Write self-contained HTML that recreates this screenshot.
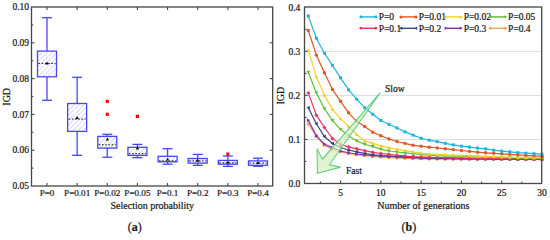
<!DOCTYPE html>
<html><head><meta charset="utf-8"><style>
html,body{margin:0;padding:0;background:#fff;width:550px;height:236px;overflow:hidden}
svg{display:block}
text{font-family:"Liberation Serif", serif;fill:#1a1a1a;stroke:#1a1a1a;stroke-width:0.22px}
</style></head><body>
<svg width="550" height="236" viewBox="0 0 550 236">
<defs><pattern id="h" patternUnits="userSpaceOnUse" width="3.5" height="3.5" patternTransform="rotate(45)"><line x1="0" y1="0" x2="0" y2="3.5" stroke="#a4a4ff" stroke-width="0.9"/></pattern></defs>
<line x1="47.00" y1="17.7" x2="47.00" y2="51.1" stroke="#4646ff" stroke-width="1.3"/>
<line x1="47.00" y1="76.8" x2="47.00" y2="100.3" stroke="#4646ff" stroke-width="1.3"/>
<line x1="42.00" y1="17.7" x2="52.00" y2="17.7" stroke="#4646ff" stroke-width="1.3"/>
<line x1="42.00" y1="100.3" x2="52.00" y2="100.3" stroke="#4646ff" stroke-width="1.3"/>
<rect x="37.50" y="51.1" width="19.0" height="25.70" fill="url(#h)" stroke="#4646ff" stroke-width="1.3"/>
<line x1="38.50" y1="63.4" x2="55.50" y2="63.4" stroke="#111" stroke-width="1" stroke-dasharray="1.6 1.6"/>
<path d="M47.00 61.50L48.60 64.60L45.40 64.60Z" fill="#000"/>
<line x1="77.14" y1="77.3" x2="77.14" y2="103.5" stroke="#4646ff" stroke-width="1.3"/>
<line x1="77.14" y1="131.4" x2="77.14" y2="155.3" stroke="#4646ff" stroke-width="1.3"/>
<line x1="72.14" y1="77.3" x2="82.14" y2="77.3" stroke="#4646ff" stroke-width="1.3"/>
<line x1="72.14" y1="155.3" x2="82.14" y2="155.3" stroke="#4646ff" stroke-width="1.3"/>
<rect x="67.64" y="103.5" width="19.0" height="27.90" fill="url(#h)" stroke="#4646ff" stroke-width="1.3"/>
<line x1="68.64" y1="119.1" x2="85.64" y2="119.1" stroke="#111" stroke-width="1" stroke-dasharray="1.6 1.6"/>
<path d="M77.14 116.00L78.74 119.10L75.54 119.10Z" fill="#000"/>
<line x1="107.28" y1="134.3" x2="107.28" y2="136.4" stroke="#4646ff" stroke-width="1.3"/>
<line x1="107.28" y1="148.1" x2="107.28" y2="157.2" stroke="#4646ff" stroke-width="1.3"/>
<line x1="102.28" y1="134.3" x2="112.28" y2="134.3" stroke="#4646ff" stroke-width="1.3"/>
<line x1="102.28" y1="157.2" x2="112.28" y2="157.2" stroke="#4646ff" stroke-width="1.3"/>
<rect x="97.78" y="136.4" width="19.0" height="11.70" fill="url(#h)" stroke="#4646ff" stroke-width="1.3"/>
<line x1="98.78" y1="144.8" x2="115.78" y2="144.8" stroke="#111" stroke-width="1" stroke-dasharray="1.6 1.6"/>
<path d="M107.28 137.40L108.88 140.50L105.68 140.50Z" fill="#000"/>
<rect x="105.68" y="99.80" width="3.2" height="3.2" fill="#f01010"/>
<rect x="105.68" y="112.70" width="3.2" height="3.2" fill="#f01010"/>
<line x1="137.42" y1="144.4" x2="137.42" y2="147.3" stroke="#4646ff" stroke-width="1.3"/>
<line x1="137.42" y1="155.4" x2="137.42" y2="157.7" stroke="#4646ff" stroke-width="1.3"/>
<line x1="132.42" y1="144.4" x2="142.42" y2="144.4" stroke="#4646ff" stroke-width="1.3"/>
<line x1="132.42" y1="157.7" x2="142.42" y2="157.7" stroke="#4646ff" stroke-width="1.3"/>
<rect x="127.92" y="147.3" width="19.0" height="8.10" fill="url(#h)" stroke="#4646ff" stroke-width="1.3"/>
<line x1="128.92" y1="153.7" x2="145.92" y2="153.7" stroke="#111" stroke-width="1" stroke-dasharray="1.6 1.6"/>
<path d="M137.42 146.30L139.02 149.40L135.82 149.40Z" fill="#000"/>
<rect x="135.82" y="114.80" width="3.2" height="3.2" fill="#f01010"/>
<line x1="167.56" y1="148.7" x2="167.56" y2="156.3" stroke="#4646ff" stroke-width="1.3"/>
<line x1="167.56" y1="161.8" x2="167.56" y2="164.2" stroke="#4646ff" stroke-width="1.3"/>
<line x1="162.56" y1="148.7" x2="172.56" y2="148.7" stroke="#4646ff" stroke-width="1.3"/>
<line x1="162.56" y1="164.2" x2="172.56" y2="164.2" stroke="#4646ff" stroke-width="1.3"/>
<rect x="158.06" y="156.3" width="19.0" height="5.50" fill="url(#h)" stroke="#4646ff" stroke-width="1.3"/>
<line x1="159.06" y1="160.9" x2="176.06" y2="160.9" stroke="#111" stroke-width="1" stroke-dasharray="1.6 1.6"/>
<path d="M167.56 157.40L169.16 160.50L165.96 160.50Z" fill="#000"/>
<line x1="197.70" y1="154.4" x2="197.70" y2="158.5" stroke="#4646ff" stroke-width="1.3"/>
<line x1="197.70" y1="163.1" x2="197.70" y2="165.3" stroke="#4646ff" stroke-width="1.3"/>
<line x1="192.70" y1="154.4" x2="202.70" y2="154.4" stroke="#4646ff" stroke-width="1.3"/>
<line x1="192.70" y1="165.3" x2="202.70" y2="165.3" stroke="#4646ff" stroke-width="1.3"/>
<rect x="188.20" y="158.5" width="19.0" height="4.60" fill="url(#h)" stroke="#4646ff" stroke-width="1.3"/>
<line x1="189.20" y1="160.9" x2="206.20" y2="160.9" stroke="#111" stroke-width="1" stroke-dasharray="1.6 1.6"/>
<path d="M197.70 158.60L199.30 161.70L196.10 161.70Z" fill="#000"/>
<line x1="227.84" y1="156.0" x2="227.84" y2="160.4" stroke="#4646ff" stroke-width="1.3"/>
<line x1="227.84" y1="164.2" x2="227.84" y2="166.4" stroke="#4646ff" stroke-width="1.3"/>
<line x1="222.84" y1="156.0" x2="232.84" y2="156.0" stroke="#4646ff" stroke-width="1.3"/>
<line x1="222.84" y1="166.4" x2="232.84" y2="166.4" stroke="#4646ff" stroke-width="1.3"/>
<rect x="218.34" y="160.4" width="19.0" height="3.80" fill="url(#h)" stroke="#4646ff" stroke-width="1.3"/>
<line x1="219.34" y1="162.9" x2="236.34" y2="162.9" stroke="#111" stroke-width="1" stroke-dasharray="1.6 1.6"/>
<path d="M227.84 160.50L229.44 163.60L226.24 163.60Z" fill="#000"/>
<rect x="226.24" y="152.50" width="3.2" height="3.2" fill="#f01010"/>
<line x1="257.98" y1="158.2" x2="257.98" y2="160.9" stroke="#4646ff" stroke-width="1.3"/>
<line x1="257.98" y1="165.3" x2="257.98" y2="166.3" stroke="#4646ff" stroke-width="1.3"/>
<line x1="252.98" y1="158.2" x2="262.98" y2="158.2" stroke="#4646ff" stroke-width="1.3"/>
<line x1="252.98" y1="166.3" x2="262.98" y2="166.3" stroke="#4646ff" stroke-width="1.3"/>
<rect x="248.48" y="160.9" width="19.0" height="4.40" fill="url(#h)" stroke="#4646ff" stroke-width="1.3"/>
<line x1="249.48" y1="163.1" x2="266.48" y2="163.1" stroke="#111" stroke-width="1" stroke-dasharray="1.6 1.6"/>
<path d="M257.98 160.90L259.58 164.00L256.38 164.00Z" fill="#000"/>
<rect x="31.5" y="7.0" width="241.20" height="179.00" fill="none" stroke="#474747" stroke-width="1.3"/>
<text x="29" y="189.20" text-anchor="end" font-size="9.5">0.05</text>
<line x1="31.5" y1="168.10" x2="33.3" y2="168.10" stroke="#474747" stroke-width="1.1"/>
<line x1="31.5" y1="150.20" x2="34.5" y2="150.20" stroke="#474747" stroke-width="1.1"/>
<line x1="272.7" y1="150.20" x2="269.7" y2="150.20" stroke="#474747" stroke-width="1.1"/>
<text x="29" y="153.40" text-anchor="end" font-size="9.5">0.06</text>
<line x1="31.5" y1="132.30" x2="33.3" y2="132.30" stroke="#474747" stroke-width="1.1"/>
<line x1="31.5" y1="114.40" x2="34.5" y2="114.40" stroke="#474747" stroke-width="1.1"/>
<line x1="272.7" y1="114.40" x2="269.7" y2="114.40" stroke="#474747" stroke-width="1.1"/>
<text x="29" y="117.60" text-anchor="end" font-size="9.5">0.07</text>
<line x1="31.5" y1="96.50" x2="33.3" y2="96.50" stroke="#474747" stroke-width="1.1"/>
<line x1="31.5" y1="78.60" x2="34.5" y2="78.60" stroke="#474747" stroke-width="1.1"/>
<line x1="272.7" y1="78.60" x2="269.7" y2="78.60" stroke="#474747" stroke-width="1.1"/>
<text x="29" y="81.80" text-anchor="end" font-size="9.5">0.08</text>
<line x1="31.5" y1="60.70" x2="33.3" y2="60.70" stroke="#474747" stroke-width="1.1"/>
<line x1="31.5" y1="42.80" x2="34.5" y2="42.80" stroke="#474747" stroke-width="1.1"/>
<line x1="272.7" y1="42.80" x2="269.7" y2="42.80" stroke="#474747" stroke-width="1.1"/>
<text x="29" y="46.00" text-anchor="end" font-size="9.5">0.09</text>
<line x1="31.5" y1="24.90" x2="33.3" y2="24.90" stroke="#474747" stroke-width="1.1"/>
<text x="29" y="10.20" text-anchor="end" font-size="9.5">0.10</text>
<line x1="47.00" y1="186.0" x2="47.00" y2="183.0" stroke="#474747" stroke-width="1.1"/>
<line x1="47.00" y1="7.0" x2="47.00" y2="10.0" stroke="#474747" stroke-width="1.1"/>
<text x="47.00" y="195.7" text-anchor="middle" font-size="9.1">P=0</text>
<line x1="77.14" y1="186.0" x2="77.14" y2="183.0" stroke="#474747" stroke-width="1.1"/>
<line x1="77.14" y1="7.0" x2="77.14" y2="10.0" stroke="#474747" stroke-width="1.1"/>
<text x="77.14" y="195.7" text-anchor="middle" font-size="9.1">P=0.01</text>
<line x1="107.28" y1="186.0" x2="107.28" y2="183.0" stroke="#474747" stroke-width="1.1"/>
<line x1="107.28" y1="7.0" x2="107.28" y2="10.0" stroke="#474747" stroke-width="1.1"/>
<text x="107.28" y="195.7" text-anchor="middle" font-size="9.1">P=0.02</text>
<line x1="137.42" y1="186.0" x2="137.42" y2="183.0" stroke="#474747" stroke-width="1.1"/>
<line x1="137.42" y1="7.0" x2="137.42" y2="10.0" stroke="#474747" stroke-width="1.1"/>
<text x="137.42" y="195.7" text-anchor="middle" font-size="9.1">P=0.05</text>
<line x1="167.56" y1="186.0" x2="167.56" y2="183.0" stroke="#474747" stroke-width="1.1"/>
<line x1="167.56" y1="7.0" x2="167.56" y2="10.0" stroke="#474747" stroke-width="1.1"/>
<text x="167.56" y="195.7" text-anchor="middle" font-size="9.1">P=0.1</text>
<line x1="197.70" y1="186.0" x2="197.70" y2="183.0" stroke="#474747" stroke-width="1.1"/>
<line x1="197.70" y1="7.0" x2="197.70" y2="10.0" stroke="#474747" stroke-width="1.1"/>
<text x="197.70" y="195.7" text-anchor="middle" font-size="9.1">P=0.2</text>
<line x1="227.84" y1="186.0" x2="227.84" y2="183.0" stroke="#474747" stroke-width="1.1"/>
<line x1="227.84" y1="7.0" x2="227.84" y2="10.0" stroke="#474747" stroke-width="1.1"/>
<text x="227.84" y="195.7" text-anchor="middle" font-size="9.1">P=0.3</text>
<line x1="257.98" y1="186.0" x2="257.98" y2="183.0" stroke="#474747" stroke-width="1.1"/>
<line x1="257.98" y1="7.0" x2="257.98" y2="10.0" stroke="#474747" stroke-width="1.1"/>
<text x="257.98" y="195.7" text-anchor="middle" font-size="9.1">P=0.4</text>
<text transform="translate(10.1,96.8) rotate(-90)" text-anchor="middle" font-size="10">IGD</text>
<text x="152.3" y="209.2" text-anchor="middle" font-size="10">Selection probability</text>
<text x="134.8" y="231" text-anchor="middle" font-size="12">(<tspan font-weight="bold">a</tspan>)</text>
<line x1="304.5" y1="139.45" x2="541.7" y2="139.45" stroke="#dcdcdc" stroke-width="1"/>
<line x1="304.5" y1="95.40" x2="541.7" y2="95.40" stroke="#dcdcdc" stroke-width="1"/>
<line x1="304.5" y1="51.35" x2="541.7" y2="51.35" stroke="#dcdcdc" stroke-width="1"/>
<polyline points="308.30,124.10 316.36,136.20 324.42,145.40 332.48,149.30 340.54,151.80 348.60,153.51 356.66,154.80 364.72,155.77 372.78,156.50 380.84,157.07 388.90,157.55 396.96,157.96 405.02,158.30 413.08,158.59 421.14,158.83 429.20,159.00 437.26,159.11 445.32,159.19 453.38,159.26 461.44,159.30 469.50,159.33 477.56,159.35 485.62,159.36 493.68,159.38 501.74,159.40 509.80,159.43 517.86,159.47 525.92,159.51 533.98,159.55 542.04,159.60" fill="none" stroke="#f2a55e" stroke-width="1.2"/>
<circle cx="308.30" cy="124.10" r="1.70" fill="#f2a55e"/>
<circle cx="316.36" cy="136.20" r="1.70" fill="#f2a55e"/>
<circle cx="324.42" cy="145.40" r="1.70" fill="#f2a55e"/>
<circle cx="332.48" cy="149.30" r="1.70" fill="#f2a55e"/>
<circle cx="340.54" cy="151.80" r="1.70" fill="#f2a55e"/>
<circle cx="348.60" cy="153.51" r="1.70" fill="#f2a55e"/>
<circle cx="356.66" cy="154.80" r="1.70" fill="#f2a55e"/>
<circle cx="364.72" cy="155.77" r="1.70" fill="#f2a55e"/>
<circle cx="372.78" cy="156.50" r="1.70" fill="#f2a55e"/>
<circle cx="380.84" cy="157.07" r="1.70" fill="#f2a55e"/>
<circle cx="388.90" cy="157.55" r="1.70" fill="#f2a55e"/>
<circle cx="396.96" cy="157.96" r="1.70" fill="#f2a55e"/>
<circle cx="405.02" cy="158.30" r="1.70" fill="#f2a55e"/>
<circle cx="413.08" cy="158.59" r="1.70" fill="#f2a55e"/>
<circle cx="421.14" cy="158.83" r="1.70" fill="#f2a55e"/>
<circle cx="429.20" cy="159.00" r="1.70" fill="#f2a55e"/>
<circle cx="437.26" cy="159.11" r="1.70" fill="#f2a55e"/>
<circle cx="445.32" cy="159.19" r="1.70" fill="#f2a55e"/>
<circle cx="453.38" cy="159.26" r="1.70" fill="#f2a55e"/>
<circle cx="461.44" cy="159.30" r="1.70" fill="#f2a55e"/>
<circle cx="469.50" cy="159.33" r="1.70" fill="#f2a55e"/>
<circle cx="477.56" cy="159.35" r="1.70" fill="#f2a55e"/>
<circle cx="485.62" cy="159.36" r="1.70" fill="#f2a55e"/>
<circle cx="493.68" cy="159.38" r="1.70" fill="#f2a55e"/>
<circle cx="501.74" cy="159.40" r="1.70" fill="#f2a55e"/>
<circle cx="509.80" cy="159.43" r="1.70" fill="#f2a55e"/>
<circle cx="517.86" cy="159.47" r="1.70" fill="#f2a55e"/>
<circle cx="525.92" cy="159.51" r="1.70" fill="#f2a55e"/>
<circle cx="533.98" cy="159.55" r="1.70" fill="#f2a55e"/>
<circle cx="542.04" cy="159.60" r="1.70" fill="#f2a55e"/>
<polyline points="308.30,120.30 316.36,135.80 324.42,144.10 332.48,147.90 340.54,151.00 348.60,152.78 356.66,154.00 364.72,154.86 372.78,155.50 380.84,156.04 388.90,156.50 396.96,156.91 405.02,157.30 413.08,157.69 421.14,158.04 429.20,158.30 437.26,158.47 445.32,158.60 453.38,158.71 461.44,158.80 469.50,158.88 477.56,158.94 485.62,159.00 493.68,159.05 501.74,159.10 509.80,159.15 517.86,159.19 525.92,159.23 533.98,159.27 542.04,159.30" fill="none" stroke="#8a2eb8" stroke-width="1.2"/>
<path d="M310.25 120.30L306.84 118.35L306.84 122.25Z" fill="#8a2eb8"/>
<path d="M318.31 135.80L314.90 133.85L314.90 137.75Z" fill="#8a2eb8"/>
<path d="M326.37 144.10L322.96 142.15L322.96 146.05Z" fill="#8a2eb8"/>
<path d="M334.43 147.90L331.02 145.95L331.02 149.85Z" fill="#8a2eb8"/>
<path d="M342.49 151.00L339.08 149.05L339.08 152.95Z" fill="#8a2eb8"/>
<path d="M350.55 152.78L347.14 150.83L347.14 154.73Z" fill="#8a2eb8"/>
<path d="M358.61 154.00L355.20 152.05L355.20 155.95Z" fill="#8a2eb8"/>
<path d="M366.67 154.86L363.26 152.91L363.26 156.81Z" fill="#8a2eb8"/>
<path d="M374.73 155.50L371.32 153.55L371.32 157.45Z" fill="#8a2eb8"/>
<path d="M382.79 156.04L379.38 154.09L379.38 157.99Z" fill="#8a2eb8"/>
<path d="M390.85 156.50L387.44 154.55L387.44 158.45Z" fill="#8a2eb8"/>
<path d="M398.91 156.91L395.50 154.96L395.50 158.86Z" fill="#8a2eb8"/>
<path d="M406.97 157.30L403.56 155.35L403.56 159.25Z" fill="#8a2eb8"/>
<path d="M415.03 157.69L411.62 155.74L411.62 159.64Z" fill="#8a2eb8"/>
<path d="M423.09 158.04L419.68 156.09L419.68 159.99Z" fill="#8a2eb8"/>
<path d="M431.15 158.30L427.74 156.35L427.74 160.25Z" fill="#8a2eb8"/>
<path d="M439.21 158.47L435.80 156.52L435.80 160.42Z" fill="#8a2eb8"/>
<path d="M447.27 158.60L443.86 156.65L443.86 160.55Z" fill="#8a2eb8"/>
<path d="M455.33 158.71L451.92 156.76L451.92 160.66Z" fill="#8a2eb8"/>
<path d="M463.39 158.80L459.98 156.85L459.98 160.75Z" fill="#8a2eb8"/>
<path d="M471.45 158.88L468.04 156.93L468.04 160.83Z" fill="#8a2eb8"/>
<path d="M479.51 158.94L476.10 156.99L476.10 160.89Z" fill="#8a2eb8"/>
<path d="M487.57 159.00L484.16 157.05L484.16 160.95Z" fill="#8a2eb8"/>
<path d="M495.63 159.05L492.22 157.10L492.22 161.00Z" fill="#8a2eb8"/>
<path d="M503.69 159.10L500.28 157.15L500.28 161.05Z" fill="#8a2eb8"/>
<path d="M511.75 159.15L508.34 157.20L508.34 161.10Z" fill="#8a2eb8"/>
<path d="M519.81 159.19L516.40 157.24L516.40 161.14Z" fill="#8a2eb8"/>
<path d="M527.87 159.23L524.46 157.28L524.46 161.18Z" fill="#8a2eb8"/>
<path d="M535.93 159.27L532.52 157.32L532.52 161.22Z" fill="#8a2eb8"/>
<path d="M543.99 159.30L540.58 157.35L540.58 161.25Z" fill="#8a2eb8"/>
<polyline points="308.30,107.80 316.36,123.80 324.42,136.50 332.48,143.50 340.54,147.50 348.60,150.00 356.66,151.80 364.72,153.40 372.78,154.80 380.84,155.49 388.90,155.99 396.96,156.39 405.02,156.80 413.08,157.26 421.14,157.70 429.20,158.00 437.26,158.17 445.32,158.30 453.38,158.40 461.44,158.50 469.50,158.59 477.56,158.68 485.62,158.76 493.68,158.83 501.74,158.90 509.80,158.97 517.86,159.03 525.92,159.09 533.98,159.15 542.04,159.20" fill="none" stroke="#324a8c" stroke-width="1.2"/>
<path d="M306.35 107.80L309.76 105.85L309.76 109.75Z" fill="#324a8c"/>
<path d="M314.41 123.80L317.82 121.85L317.82 125.75Z" fill="#324a8c"/>
<path d="M322.47 136.50L325.88 134.55L325.88 138.45Z" fill="#324a8c"/>
<path d="M330.53 143.50L333.94 141.55L333.94 145.45Z" fill="#324a8c"/>
<path d="M338.59 147.50L342.00 145.55L342.00 149.45Z" fill="#324a8c"/>
<path d="M346.65 150.00L350.06 148.05L350.06 151.95Z" fill="#324a8c"/>
<path d="M354.71 151.80L358.12 149.85L358.12 153.75Z" fill="#324a8c"/>
<path d="M362.77 153.40L366.18 151.45L366.18 155.35Z" fill="#324a8c"/>
<path d="M370.83 154.80L374.24 152.85L374.24 156.75Z" fill="#324a8c"/>
<path d="M378.89 155.49L382.30 153.54L382.30 157.44Z" fill="#324a8c"/>
<path d="M386.95 155.99L390.36 154.04L390.36 157.94Z" fill="#324a8c"/>
<path d="M395.01 156.39L398.42 154.44L398.42 158.34Z" fill="#324a8c"/>
<path d="M403.07 156.80L406.48 154.85L406.48 158.75Z" fill="#324a8c"/>
<path d="M411.13 157.26L414.54 155.31L414.54 159.21Z" fill="#324a8c"/>
<path d="M419.19 157.70L422.60 155.75L422.60 159.65Z" fill="#324a8c"/>
<path d="M427.25 158.00L430.66 156.05L430.66 159.95Z" fill="#324a8c"/>
<path d="M435.31 158.17L438.72 156.22L438.72 160.12Z" fill="#324a8c"/>
<path d="M443.37 158.30L446.78 156.35L446.78 160.25Z" fill="#324a8c"/>
<path d="M451.43 158.40L454.84 156.45L454.84 160.35Z" fill="#324a8c"/>
<path d="M459.49 158.50L462.90 156.55L462.90 160.45Z" fill="#324a8c"/>
<path d="M467.55 158.59L470.96 156.64L470.96 160.54Z" fill="#324a8c"/>
<path d="M475.61 158.68L479.02 156.73L479.02 160.63Z" fill="#324a8c"/>
<path d="M483.67 158.76L487.08 156.81L487.08 160.71Z" fill="#324a8c"/>
<path d="M491.73 158.83L495.14 156.88L495.14 160.78Z" fill="#324a8c"/>
<path d="M499.79 158.90L503.20 156.95L503.20 160.85Z" fill="#324a8c"/>
<path d="M507.85 158.97L511.26 157.02L511.26 160.92Z" fill="#324a8c"/>
<path d="M515.91 159.03L519.32 157.08L519.32 160.98Z" fill="#324a8c"/>
<path d="M523.97 159.09L527.38 157.14L527.38 161.04Z" fill="#324a8c"/>
<path d="M532.03 159.15L535.44 157.20L535.44 161.10Z" fill="#324a8c"/>
<path d="M540.09 159.20L543.50 157.25L543.50 161.15Z" fill="#324a8c"/>
<polyline points="308.30,92.90 316.36,115.20 324.42,127.50 332.48,138.40 340.54,144.50 348.60,146.90 356.66,148.80 364.72,150.70 372.78,152.30 380.84,153.50 388.90,154.40 396.96,155.27 405.02,156.00 413.08,156.54 421.14,156.98 429.20,157.30 437.26,157.53 445.32,157.71 453.38,157.86 461.44,158.00 469.50,158.14 477.56,158.27 485.62,158.39 493.68,158.50 501.74,158.60 509.80,158.69 517.86,158.78 525.92,158.86 533.98,158.94 542.04,159.00" fill="none" stroke="#f52f5e" stroke-width="1.2"/>
<path d="M308.30 90.88L310.32 92.90L308.30 94.93L306.28 92.90Z" fill="#f52f5e"/>
<path d="M316.36 113.17L318.38 115.20L316.36 117.23L314.34 115.20Z" fill="#f52f5e"/>
<path d="M324.42 125.47L326.44 127.50L324.42 129.53L322.40 127.50Z" fill="#f52f5e"/>
<path d="M332.48 136.38L334.50 138.40L332.48 140.43L330.46 138.40Z" fill="#f52f5e"/>
<path d="M340.54 142.47L342.56 144.50L340.54 146.53L338.52 144.50Z" fill="#f52f5e"/>
<path d="M348.60 144.88L350.62 146.90L348.60 148.93L346.58 146.90Z" fill="#f52f5e"/>
<path d="M356.66 146.78L358.69 148.80L356.66 150.83L354.64 148.80Z" fill="#f52f5e"/>
<path d="M364.72 148.67L366.75 150.70L364.72 152.72L362.70 150.70Z" fill="#f52f5e"/>
<path d="M372.78 150.28L374.81 152.30L372.78 154.33L370.76 152.30Z" fill="#f52f5e"/>
<path d="M380.84 151.47L382.87 153.50L380.84 155.53L378.82 153.50Z" fill="#f52f5e"/>
<path d="M388.90 152.38L390.93 154.40L388.90 156.43L386.88 154.40Z" fill="#f52f5e"/>
<path d="M396.96 153.24L398.99 155.27L396.96 157.29L394.94 155.27Z" fill="#f52f5e"/>
<path d="M405.02 153.97L407.04 156.00L405.02 158.03L403.00 156.00Z" fill="#f52f5e"/>
<path d="M413.08 154.51L415.11 156.54L413.08 158.56L411.06 156.54Z" fill="#f52f5e"/>
<path d="M421.14 154.95L423.16 156.98L421.14 159.00L419.12 156.98Z" fill="#f52f5e"/>
<path d="M429.20 155.28L431.23 157.30L429.20 159.33L427.18 157.30Z" fill="#f52f5e"/>
<path d="M437.26 155.50L439.28 157.53L437.26 159.55L435.24 157.53Z" fill="#f52f5e"/>
<path d="M445.32 155.68L447.35 157.71L445.32 159.73L443.30 157.71Z" fill="#f52f5e"/>
<path d="M453.38 155.83L455.40 157.86L453.38 159.88L451.36 157.86Z" fill="#f52f5e"/>
<path d="M461.44 155.97L463.47 158.00L461.44 160.03L459.42 158.00Z" fill="#f52f5e"/>
<path d="M469.50 156.11L471.52 158.14L469.50 160.16L467.48 158.14Z" fill="#f52f5e"/>
<path d="M477.56 156.24L479.59 158.27L477.56 160.29L475.54 158.27Z" fill="#f52f5e"/>
<path d="M485.62 156.36L487.64 158.39L485.62 160.41L483.60 158.39Z" fill="#f52f5e"/>
<path d="M493.68 156.47L495.71 158.50L493.68 160.52L491.66 158.50Z" fill="#f52f5e"/>
<path d="M501.74 156.57L503.76 158.60L501.74 160.62L499.72 158.60Z" fill="#f52f5e"/>
<path d="M509.80 156.67L511.82 158.69L509.80 160.72L507.78 158.69Z" fill="#f52f5e"/>
<path d="M517.86 156.76L519.88 158.78L517.86 160.81L515.84 158.78Z" fill="#f52f5e"/>
<path d="M525.92 156.84L527.95 158.86L525.92 160.89L523.90 158.86Z" fill="#f52f5e"/>
<path d="M533.98 156.91L536.00 158.94L533.98 160.96L531.96 158.94Z" fill="#f52f5e"/>
<path d="M542.04 156.97L544.06 159.00L542.04 161.02L540.01 159.00Z" fill="#f52f5e"/>
<polyline points="308.30,72.10 316.36,92.90 324.42,108.70 332.48,120.50 340.54,129.40 348.60,135.80 356.66,140.90 364.72,144.30 372.78,146.50 380.84,149.10 388.90,151.00 396.96,152.00 405.02,152.80 413.08,153.68 421.14,154.56 429.20,155.20 437.26,155.59 445.32,155.89 453.38,156.15 461.44,156.40 469.50,156.67 477.56,156.93 485.62,157.18 493.68,157.40 501.74,157.60 509.80,157.77 517.86,157.93 525.92,158.07 533.98,158.20 542.04,158.30" fill="none" stroke="#5cbf30" stroke-width="1.2"/>
<path d="M308.30 74.05L310.25 70.64L306.35 70.64Z" fill="#5cbf30"/>
<path d="M316.36 94.85L318.31 91.44L314.41 91.44Z" fill="#5cbf30"/>
<path d="M324.42 110.65L326.37 107.24L322.47 107.24Z" fill="#5cbf30"/>
<path d="M332.48 122.45L334.43 119.04L330.53 119.04Z" fill="#5cbf30"/>
<path d="M340.54 131.35L342.49 127.94L338.59 127.94Z" fill="#5cbf30"/>
<path d="M348.60 137.75L350.55 134.34L346.65 134.34Z" fill="#5cbf30"/>
<path d="M356.66 142.85L358.61 139.44L354.71 139.44Z" fill="#5cbf30"/>
<path d="M364.72 146.25L366.67 142.84L362.77 142.84Z" fill="#5cbf30"/>
<path d="M372.78 148.45L374.73 145.04L370.83 145.04Z" fill="#5cbf30"/>
<path d="M380.84 151.05L382.79 147.64L378.89 147.64Z" fill="#5cbf30"/>
<path d="M388.90 152.95L390.85 149.54L386.95 149.54Z" fill="#5cbf30"/>
<path d="M396.96 153.95L398.91 150.54L395.01 150.54Z" fill="#5cbf30"/>
<path d="M405.02 154.75L406.97 151.34L403.07 151.34Z" fill="#5cbf30"/>
<path d="M413.08 155.63L415.03 152.22L411.13 152.22Z" fill="#5cbf30"/>
<path d="M421.14 156.51L423.09 153.09L419.19 153.09Z" fill="#5cbf30"/>
<path d="M429.20 157.15L431.15 153.74L427.25 153.74Z" fill="#5cbf30"/>
<path d="M437.26 157.54L439.21 154.13L435.31 154.13Z" fill="#5cbf30"/>
<path d="M445.32 157.84L447.27 154.43L443.37 154.43Z" fill="#5cbf30"/>
<path d="M453.38 158.10L455.33 154.68L451.43 154.68Z" fill="#5cbf30"/>
<path d="M461.44 158.35L463.39 154.94L459.49 154.94Z" fill="#5cbf30"/>
<path d="M469.50 158.62L471.45 155.21L467.55 155.21Z" fill="#5cbf30"/>
<path d="M477.56 158.88L479.51 155.47L475.61 155.47Z" fill="#5cbf30"/>
<path d="M485.62 159.13L487.57 155.72L483.67 155.72Z" fill="#5cbf30"/>
<path d="M493.68 159.35L495.63 155.94L491.73 155.94Z" fill="#5cbf30"/>
<path d="M501.74 159.55L503.69 156.14L499.79 156.14Z" fill="#5cbf30"/>
<path d="M509.80 159.72L511.75 156.31L507.85 156.31Z" fill="#5cbf30"/>
<path d="M517.86 159.88L519.81 156.47L515.91 156.47Z" fill="#5cbf30"/>
<path d="M525.92 160.02L527.87 156.61L523.97 156.61Z" fill="#5cbf30"/>
<path d="M533.98 160.15L535.93 156.74L532.03 156.74Z" fill="#5cbf30"/>
<path d="M542.04 160.25L543.99 156.84L540.09 156.84Z" fill="#5cbf30"/>
<polyline points="308.30,50.30 316.36,76.80 324.42,95.20 332.48,109.30 340.54,118.70 348.60,126.50 356.66,134.50 364.72,140.90 372.78,143.40 380.84,145.90 388.90,147.80 396.96,149.30 405.02,150.60 413.08,151.90 421.14,153.15 429.20,154.00 437.26,154.47 445.32,154.81 453.38,155.10 461.44,155.40 469.50,155.72 477.56,156.05 485.62,156.35 493.68,156.64 501.74,156.90 509.80,157.13 517.86,157.35 525.92,157.56 533.98,157.74 542.04,157.90" fill="none" stroke="#f5d02a" stroke-width="1.2"/>
<path d="M308.30 48.35L310.25 51.76L306.35 51.76Z" fill="#f5d02a"/>
<path d="M316.36 74.85L318.31 78.26L314.41 78.26Z" fill="#f5d02a"/>
<path d="M324.42 93.25L326.37 96.66L322.47 96.66Z" fill="#f5d02a"/>
<path d="M332.48 107.35L334.43 110.76L330.53 110.76Z" fill="#f5d02a"/>
<path d="M340.54 116.75L342.49 120.16L338.59 120.16Z" fill="#f5d02a"/>
<path d="M348.60 124.55L350.55 127.96L346.65 127.96Z" fill="#f5d02a"/>
<path d="M356.66 132.55L358.61 135.96L354.71 135.96Z" fill="#f5d02a"/>
<path d="M364.72 138.95L366.67 142.36L362.77 142.36Z" fill="#f5d02a"/>
<path d="M372.78 141.45L374.73 144.86L370.83 144.86Z" fill="#f5d02a"/>
<path d="M380.84 143.95L382.79 147.36L378.89 147.36Z" fill="#f5d02a"/>
<path d="M388.90 145.85L390.85 149.26L386.95 149.26Z" fill="#f5d02a"/>
<path d="M396.96 147.35L398.91 150.76L395.01 150.76Z" fill="#f5d02a"/>
<path d="M405.02 148.65L406.97 152.06L403.07 152.06Z" fill="#f5d02a"/>
<path d="M413.08 149.95L415.03 153.37L411.13 153.37Z" fill="#f5d02a"/>
<path d="M421.14 151.20L423.09 154.61L419.19 154.61Z" fill="#f5d02a"/>
<path d="M429.20 152.05L431.15 155.46L427.25 155.46Z" fill="#f5d02a"/>
<path d="M437.26 152.52L439.21 155.93L435.31 155.93Z" fill="#f5d02a"/>
<path d="M445.32 152.86L447.27 156.27L443.37 156.27Z" fill="#f5d02a"/>
<path d="M453.38 153.15L455.33 156.56L451.43 156.56Z" fill="#f5d02a"/>
<path d="M461.44 153.45L463.39 156.86L459.49 156.86Z" fill="#f5d02a"/>
<path d="M469.50 153.77L471.45 157.19L467.55 157.19Z" fill="#f5d02a"/>
<path d="M477.56 154.10L479.51 157.51L475.61 157.51Z" fill="#f5d02a"/>
<path d="M485.62 154.40L487.57 157.82L483.67 157.82Z" fill="#f5d02a"/>
<path d="M493.68 154.69L495.63 158.10L491.73 158.10Z" fill="#f5d02a"/>
<path d="M501.74 154.95L503.69 158.36L499.79 158.36Z" fill="#f5d02a"/>
<path d="M509.80 155.18L511.75 158.60L507.85 158.60Z" fill="#f5d02a"/>
<path d="M517.86 155.40L519.81 158.82L515.91 158.82Z" fill="#f5d02a"/>
<path d="M525.92 155.61L527.87 159.02L523.97 159.02Z" fill="#f5d02a"/>
<path d="M533.98 155.79L535.93 159.20L532.03 159.20Z" fill="#f5d02a"/>
<path d="M542.04 155.95L543.99 159.36L540.09 159.36Z" fill="#f5d02a"/>
<polyline points="308.30,30.50 316.36,55.10 324.42,72.80 332.48,89.40 340.54,101.30 348.60,112.80 356.66,121.30 364.72,126.50 372.78,132.30 380.84,135.70 388.90,139.00 396.96,141.50 405.02,143.40 413.08,145.30 421.14,146.20 429.20,147.20 437.26,148.00 445.32,148.80 453.38,149.60 461.44,150.50 469.50,151.40 477.56,152.20 485.62,152.80 493.68,153.30 501.74,153.80 509.80,154.40 517.86,154.92 525.92,155.40 533.98,155.83 542.04,156.20" fill="none" stroke="#e35520" stroke-width="1.2"/>
<circle cx="308.30" cy="30.50" r="1.70" fill="#e35520"/>
<circle cx="316.36" cy="55.10" r="1.70" fill="#e35520"/>
<circle cx="324.42" cy="72.80" r="1.70" fill="#e35520"/>
<circle cx="332.48" cy="89.40" r="1.70" fill="#e35520"/>
<circle cx="340.54" cy="101.30" r="1.70" fill="#e35520"/>
<circle cx="348.60" cy="112.80" r="1.70" fill="#e35520"/>
<circle cx="356.66" cy="121.30" r="1.70" fill="#e35520"/>
<circle cx="364.72" cy="126.50" r="1.70" fill="#e35520"/>
<circle cx="372.78" cy="132.30" r="1.70" fill="#e35520"/>
<circle cx="380.84" cy="135.70" r="1.70" fill="#e35520"/>
<circle cx="388.90" cy="139.00" r="1.70" fill="#e35520"/>
<circle cx="396.96" cy="141.50" r="1.70" fill="#e35520"/>
<circle cx="405.02" cy="143.40" r="1.70" fill="#e35520"/>
<circle cx="413.08" cy="145.30" r="1.70" fill="#e35520"/>
<circle cx="421.14" cy="146.20" r="1.70" fill="#e35520"/>
<circle cx="429.20" cy="147.20" r="1.70" fill="#e35520"/>
<circle cx="437.26" cy="148.00" r="1.70" fill="#e35520"/>
<circle cx="445.32" cy="148.80" r="1.70" fill="#e35520"/>
<circle cx="453.38" cy="149.60" r="1.70" fill="#e35520"/>
<circle cx="461.44" cy="150.50" r="1.70" fill="#e35520"/>
<circle cx="469.50" cy="151.40" r="1.70" fill="#e35520"/>
<circle cx="477.56" cy="152.20" r="1.70" fill="#e35520"/>
<circle cx="485.62" cy="152.80" r="1.70" fill="#e35520"/>
<circle cx="493.68" cy="153.30" r="1.70" fill="#e35520"/>
<circle cx="501.74" cy="153.80" r="1.70" fill="#e35520"/>
<circle cx="509.80" cy="154.40" r="1.70" fill="#e35520"/>
<circle cx="517.86" cy="154.92" r="1.70" fill="#e35520"/>
<circle cx="525.92" cy="155.40" r="1.70" fill="#e35520"/>
<circle cx="533.98" cy="155.83" r="1.70" fill="#e35520"/>
<circle cx="542.04" cy="156.20" r="1.70" fill="#e35520"/>
<polyline points="308.30,15.90 316.36,38.20 324.42,53.20 332.48,65.30 340.54,77.80 348.60,89.90 356.66,99.10 364.72,107.80 372.78,114.30 380.84,120.50 388.90,124.30 396.96,128.00 405.02,131.90 413.08,135.10 421.14,138.30 429.20,140.20 437.26,141.70 445.32,143.30 453.38,144.90 461.44,146.20 469.50,147.10 477.56,148.10 485.62,148.90 493.68,150.20 501.74,151.10 509.80,151.80 517.86,152.60 525.92,153.20 533.98,153.70 542.04,154.10" fill="none" stroke="#1fb3e5" stroke-width="1.2"/>
<rect x="306.80" y="14.40" width="3.00" height="3.00" fill="#1fb3e5"/>
<rect x="314.86" y="36.70" width="3.00" height="3.00" fill="#1fb3e5"/>
<rect x="322.92" y="51.70" width="3.00" height="3.00" fill="#1fb3e5"/>
<rect x="330.98" y="63.80" width="3.00" height="3.00" fill="#1fb3e5"/>
<rect x="339.04" y="76.30" width="3.00" height="3.00" fill="#1fb3e5"/>
<rect x="347.10" y="88.40" width="3.00" height="3.00" fill="#1fb3e5"/>
<rect x="355.16" y="97.60" width="3.00" height="3.00" fill="#1fb3e5"/>
<rect x="363.22" y="106.30" width="3.00" height="3.00" fill="#1fb3e5"/>
<rect x="371.28" y="112.80" width="3.00" height="3.00" fill="#1fb3e5"/>
<rect x="379.34" y="119.00" width="3.00" height="3.00" fill="#1fb3e5"/>
<rect x="387.40" y="122.80" width="3.00" height="3.00" fill="#1fb3e5"/>
<rect x="395.46" y="126.50" width="3.00" height="3.00" fill="#1fb3e5"/>
<rect x="403.52" y="130.40" width="3.00" height="3.00" fill="#1fb3e5"/>
<rect x="411.58" y="133.60" width="3.00" height="3.00" fill="#1fb3e5"/>
<rect x="419.64" y="136.80" width="3.00" height="3.00" fill="#1fb3e5"/>
<rect x="427.70" y="138.70" width="3.00" height="3.00" fill="#1fb3e5"/>
<rect x="435.76" y="140.20" width="3.00" height="3.00" fill="#1fb3e5"/>
<rect x="443.82" y="141.80" width="3.00" height="3.00" fill="#1fb3e5"/>
<rect x="451.88" y="143.40" width="3.00" height="3.00" fill="#1fb3e5"/>
<rect x="459.94" y="144.70" width="3.00" height="3.00" fill="#1fb3e5"/>
<rect x="468.00" y="145.60" width="3.00" height="3.00" fill="#1fb3e5"/>
<rect x="476.06" y="146.60" width="3.00" height="3.00" fill="#1fb3e5"/>
<rect x="484.12" y="147.40" width="3.00" height="3.00" fill="#1fb3e5"/>
<rect x="492.18" y="148.70" width="3.00" height="3.00" fill="#1fb3e5"/>
<rect x="500.24" y="149.60" width="3.00" height="3.00" fill="#1fb3e5"/>
<rect x="508.30" y="150.30" width="3.00" height="3.00" fill="#1fb3e5"/>
<rect x="516.36" y="151.10" width="3.00" height="3.00" fill="#1fb3e5"/>
<rect x="524.42" y="151.70" width="3.00" height="3.00" fill="#1fb3e5"/>
<rect x="532.48" y="152.20" width="3.00" height="3.00" fill="#1fb3e5"/>
<rect x="540.54" y="152.60" width="3.00" height="3.00" fill="#1fb3e5"/>
<path d="M380.1 92.9 L329.4 164.8 L340.6 167.1 L317.4 173.4 L317.1 148.8 L322.4 159.2 Z" fill="#d6eebc" fill-opacity="0.7" stroke="#63cf86" stroke-width="1.1" stroke-linejoin="miter"/>
<text x="385" y="91.6" font-size="9.5">Slow</text>
<text x="346" y="174.4" font-size="9.5">Fast</text>
<rect x="304.5" y="7.0" width="237.20" height="176.50" fill="none" stroke="#474747" stroke-width="1.3"/>
<text x="300.3" y="186.70" text-anchor="end" font-size="9.5">0.0</text>
<line x1="304.5" y1="161.47" x2="306.5" y2="161.47" stroke="#474747" stroke-width="1.1"/>
<line x1="304.5" y1="139.45" x2="307.5" y2="139.45" stroke="#474747" stroke-width="1.1"/>
<text x="300.3" y="142.65" text-anchor="end" font-size="9.5">0.1</text>
<line x1="304.5" y1="117.42" x2="306.5" y2="117.42" stroke="#474747" stroke-width="1.1"/>
<line x1="304.5" y1="95.40" x2="307.5" y2="95.40" stroke="#474747" stroke-width="1.1"/>
<text x="300.3" y="98.60" text-anchor="end" font-size="9.5">0.2</text>
<line x1="304.5" y1="73.38" x2="306.5" y2="73.38" stroke="#474747" stroke-width="1.1"/>
<line x1="304.5" y1="51.35" x2="307.5" y2="51.35" stroke="#474747" stroke-width="1.1"/>
<text x="300.3" y="54.55" text-anchor="end" font-size="9.5">0.3</text>
<line x1="304.5" y1="29.33" x2="306.5" y2="29.33" stroke="#474747" stroke-width="1.1"/>
<text x="300.3" y="10.50" text-anchor="end" font-size="9.5">0.4</text>
<line x1="320.39" y1="183.5" x2="320.39" y2="181.5" stroke="#474747" stroke-width="1.1"/>
<line x1="340.54" y1="183.5" x2="340.54" y2="180.5" stroke="#474747" stroke-width="1.1"/>
<text x="340.54" y="195.6" text-anchor="middle" font-size="9.5">5</text>
<line x1="360.69" y1="183.5" x2="360.69" y2="181.5" stroke="#474747" stroke-width="1.1"/>
<line x1="380.84" y1="183.5" x2="380.84" y2="180.5" stroke="#474747" stroke-width="1.1"/>
<text x="380.84" y="195.6" text-anchor="middle" font-size="9.5">10</text>
<line x1="400.99" y1="183.5" x2="400.99" y2="181.5" stroke="#474747" stroke-width="1.1"/>
<line x1="421.14" y1="183.5" x2="421.14" y2="180.5" stroke="#474747" stroke-width="1.1"/>
<text x="421.14" y="195.6" text-anchor="middle" font-size="9.5">15</text>
<line x1="441.29" y1="183.5" x2="441.29" y2="181.5" stroke="#474747" stroke-width="1.1"/>
<line x1="461.44" y1="183.5" x2="461.44" y2="180.5" stroke="#474747" stroke-width="1.1"/>
<text x="461.44" y="195.6" text-anchor="middle" font-size="9.5">20</text>
<line x1="481.59" y1="183.5" x2="481.59" y2="181.5" stroke="#474747" stroke-width="1.1"/>
<line x1="501.74" y1="183.5" x2="501.74" y2="180.5" stroke="#474747" stroke-width="1.1"/>
<text x="501.74" y="195.6" text-anchor="middle" font-size="9.5">25</text>
<line x1="521.89" y1="183.5" x2="521.89" y2="181.5" stroke="#474747" stroke-width="1.1"/>
<text x="542.04" y="195.6" text-anchor="middle" font-size="9.5">30</text>
<text transform="translate(284.0,95.6) rotate(-90)" text-anchor="middle" font-size="10">IGD</text>
<text x="423.3" y="209.2" text-anchor="middle" font-size="10">Number of generations</text>
<text x="408.9" y="231" text-anchor="middle" font-size="12">(<tspan font-weight="bold">b</tspan>)</text>
<line x1="360.1" y1="16.9" x2="376.70" y2="16.9" stroke="#1fb3e5" stroke-width="1.4"/>
<rect x="359.60" y="15.60" width="2.60" height="2.60" fill="#1fb3e5"/>
<rect x="374.60" y="15.60" width="2.60" height="2.60" fill="#1fb3e5"/>
<text x="378.70" y="20.20" font-size="9.5">P=0</text>
<line x1="400.1" y1="16.9" x2="416.70" y2="16.9" stroke="#e35520" stroke-width="1.4"/>
<circle cx="400.90" cy="16.90" r="1.50" fill="#e35520"/>
<circle cx="415.90" cy="16.90" r="1.50" fill="#e35520"/>
<text x="418.70" y="20.20" font-size="9.5">P=0.01</text>
<line x1="445.1" y1="16.9" x2="461.70" y2="16.9" stroke="#f5d02a" stroke-width="1.4"/>
<path d="M445.90 15.21L447.59 18.17L444.21 18.17Z" fill="#f5d02a"/>
<path d="M460.90 15.21L462.59 18.17L459.21 18.17Z" fill="#f5d02a"/>
<text x="463.70" y="20.20" font-size="9.5">P=0.02</text>
<line x1="489.5" y1="16.9" x2="506.10" y2="16.9" stroke="#5cbf30" stroke-width="1.4"/>
<path d="M490.30 18.59L491.99 15.63L488.61 15.63Z" fill="#5cbf30"/>
<path d="M505.30 18.59L506.99 15.63L503.61 15.63Z" fill="#5cbf30"/>
<text x="508.10" y="20.20" font-size="9.5">P=0.05</text>
<line x1="360.1" y1="28.3" x2="376.70" y2="28.3" stroke="#f52f5e" stroke-width="1.4"/>
<path d="M360.90 26.55L362.66 28.30L360.90 30.05L359.15 28.30Z" fill="#f52f5e"/>
<path d="M375.90 26.55L377.66 28.30L375.90 30.05L374.15 28.30Z" fill="#f52f5e"/>
<text x="378.70" y="31.60" font-size="9.5">P=0.1</text>
<line x1="400.1" y1="28.3" x2="416.70" y2="28.3" stroke="#324a8c" stroke-width="1.4"/>
<path d="M399.21 28.30L402.17 26.61L402.17 29.99Z" fill="#324a8c"/>
<path d="M414.21 28.30L417.17 26.61L417.17 29.99Z" fill="#324a8c"/>
<text x="418.70" y="31.60" font-size="9.5">P=0.2</text>
<line x1="445.1" y1="28.3" x2="461.70" y2="28.3" stroke="#8a2eb8" stroke-width="1.4"/>
<path d="M447.59 28.30L444.63 26.61L444.63 29.99Z" fill="#8a2eb8"/>
<path d="M462.59 28.30L459.63 26.61L459.63 29.99Z" fill="#8a2eb8"/>
<text x="463.70" y="31.60" font-size="9.5">P=0.3</text>
<line x1="489.5" y1="28.3" x2="506.10" y2="28.3" stroke="#f2a55e" stroke-width="1.4"/>
<circle cx="490.30" cy="28.30" r="1.50" fill="#f2a55e"/>
<circle cx="505.30" cy="28.30" r="1.50" fill="#f2a55e"/>
<text x="508.10" y="31.60" font-size="9.5">P=0.4</text>
</svg>
</body></html>
